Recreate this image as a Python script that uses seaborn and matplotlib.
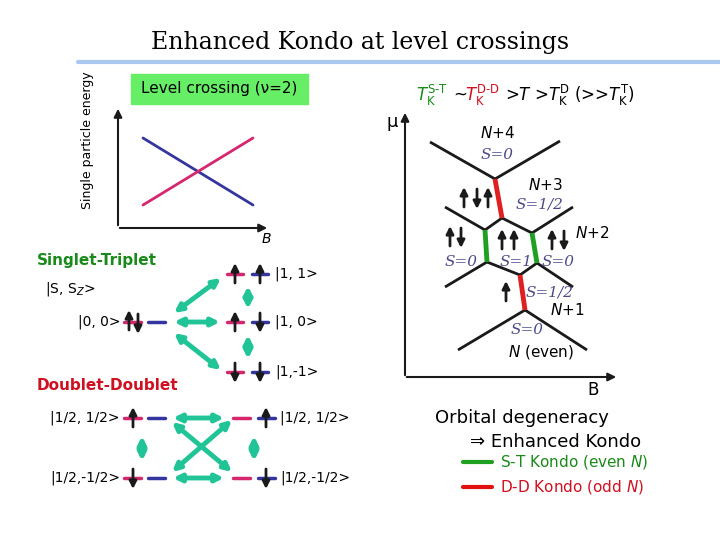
import matplotlib
matplotlib.use("Agg")
import matplotlib.pyplot as plt
import seaborn as sns
from matplotlib.patches import Rectangle

sns.set_theme(style="white")
plt.rcParams['font.family'] = ['DejaVu Sans']
plt.rcParams['text.color'] = 'black'

# ---- data ----
crossing_B = [0.0, 1.0]
level_blue = [1.0, 0.0]
level_pink = [0.0, 1.0]

# hexagon diagram segments (B, mu) in panel pixel units
black_segs = [((430,142),(495,179)), ((560,141),(495,179)),
              ((445,207),(485,230)), ((485,230),(502,218)), ((502,218),(532,233)), ((532,233),(573,207)),
              ((445,287),(487,262)), ((487,262),(520,275)), ((520,275),(537,263)), ((537,263),(573,287)),
              ((458,350),(525,310)), ((525,310),(587,350))]
red_segs = [((495,179),(502,218)), ((520,275),(525,310))]
green_segs = [((485,230),(487,262)), ((532,233),(537,263))]

triplet_labels = ["|1, 1>", "|1, 0>", "|1,-1>"]
triplet_y = [274, 322, 372]
triplet_spins = [("up", "up"), ("up", "down"), ("down", "down")]
doublet_labels = ["|1/2, 1/2>", "|1/2,-1/2>"]
doublet_y = [418, 478]

PINK = "#d6266e"; BLUE = "#3535a0"; TEAL = "#20c497"; SCOL = "#4a4a8a"
GREEN = "#1a8a1a"; RED = "#d01020"

fig = plt.figure(figsize=(7.2, 5.4), dpi=100)
ax = fig.add_axes([0, 0, 1, 1])
ax.set_xlim(0, 720); ax.set_ylim(540, 0); ax.axis("off")

ax.text(360, 42, "Enhanced Kondo at level crossings", ha="center", va="center",
        fontsize=17, family="DejaVu Serif")
ax.plot([78, 720], [62, 62], color="#a8c8f0", lw=3)

# ---- level crossing panel ----
ax.add_patch(Rectangle((131, 74), 177, 30, color="#66ee66"))
ax.text(219, 89, "Level crossing (ν=2)", ha="center", va="center", fontsize=11)
ax.annotate("", xy=(118, 106), xytext=(118, 228), arrowprops=dict(arrowstyle="-|>", color="k", lw=1.5))
ax.annotate("", xy=(270, 228), xytext=(117, 228), arrowprops=dict(arrowstyle="-|>", color="k", lw=1.5))
ax.text(88, 140, "Single particle energy", rotation=90, ha="center", va="center", fontsize=9)
ax.text(266, 239, "B", fontsize=10, style="italic", ha="center", va="center")
bx = [143 + 110 * b for b in crossing_B]
ax.plot(bx, [205 - 67 * v for v in level_blue], color=BLUE, lw=2)
ax.plot(bx, [205 - 67 * v for v in level_pink], color=PINK, lw=2)

SP = dict(arrowstyle="-|>", color="k", lw=2, mutation_scale=11, shrinkA=0, shrinkB=0)

def spin(x, y, d):
    if d == "up":
        ax.annotate("", xy=(x, y - 11), xytext=(x, y + 9), arrowprops=SP)
    else:
        ax.annotate("", xy=(x, y + 11), xytext=(x, y - 9), arrowprops=SP)

def dash(x0, x1, y, c):
    ax.plot([x0, x1], [y, y], color=c, lw=2.5)

def darrow(p, q):
    ax.annotate("", xy=q, xytext=p, arrowprops=dict(arrowstyle="<|-|>", color=TEAL, lw=3.5,
                                                    mutation_scale=11, shrinkA=0, shrinkB=0))

# ---- singlet-triplet ----
ax.text(37, 260, "Singlet-Triplet", color=GREEN, fontsize=11, fontweight="bold", va="center")
ax.text(45, 289, "|S, S$_Z$>", fontsize=10, va="center")
ax.text(120, 322, "|0, 0>", fontsize=10, va="center", ha="right")
dash(124, 141, 322, PINK); dash(148, 165, 322, BLUE)
spin(129, 321, "up"); spin(138, 323, "down")
for lab, y, (s1, s2) in zip(triplet_labels, triplet_y, triplet_spins):
    dash(227, 243, y, PINK); dash(252, 268, y, BLUE)
    spin(235, y, s1); spin(260, y, s2)
    ax.text(275, y, lab, fontsize=10, va="center")
darrow((174, 313), (221, 278)); darrow((174, 322), (220, 322)); darrow((174, 333), (221, 370))
darrow((248, 286), (248, 309)); darrow((248, 335), (248, 359))

# ---- doublet-doublet ----
ax.text(37, 385, "Doublet-Doublet", color=RED, fontsize=11, fontweight="bold", va="center")
for lab, y, s in zip(doublet_labels, doublet_y, ["up", "down"]):
    ax.text(120, y, lab, fontsize=10, va="center", ha="right")
    dash(124, 141, y, PINK); dash(148, 165, y, BLUE); spin(133, y, s)
    dash(233, 250, y, PINK); dash(258, 275, y, BLUE); spin(266, y, s)
    ax.text(280, y, lab, fontsize=10, va="center")
darrow((173, 418), (224, 418)); darrow((173, 478), (224, 478))
darrow((172, 472), (232, 420)); darrow((172, 422), (232, 472))
darrow((142, 436), (142, 461)); darrow((254, 436), (254, 461))

# ---- right panel ----
x0 = 416
ax.text(x0, 95, r"$T_{\rm K}^{\rm S\text{-}T}$", color=GREEN, fontsize=12, va="center")
ax.text(x0 + 37, 95, "~", fontsize=12, va="center")
ax.text(x0 + 49, 95, r"$T_{\rm K}^{\rm D\text{-}D}$", color=RED, fontsize=12, va="center")
ax.text(x0 + 89, 95, r">$T$ >$T_{\rm K}^{\rm D}$ (>>$T_{\rm K}^{\rm T}$)", fontsize=12, va="center")

ax.annotate("", xy=(405, 110), xytext=(405, 378), arrowprops=dict(arrowstyle="-|>", color="k", lw=1.5))
ax.annotate("", xy=(619, 377), xytext=(404, 377), arrowprops=dict(arrowstyle="-|>", color="k", lw=1.5))
ax.text(392, 122, "μ", fontsize=13, va="center", ha="center")
ax.text(593, 390, "B", fontsize=12, va="center", ha="center")
for segs, c, w in [(black_segs, "k", 2), (red_segs, "#e02020", 3.5), (green_segs, "#20a020", 3.5)]:
    for (p, q) in segs:
        ax.plot([p[0], q[0]], [p[1], q[1]], color=c, lw=w, solid_capstyle="butt")

def Slab(x, y, s):
    ax.text(x, y, s, fontsize=11, color=SCOL, family="DejaVu Serif", style="italic", va="center", ha="center")
def Nlab(x, y, s):
    ax.text(x, y, s, fontsize=11, va="center", ha="center")

Nlab(497, 133, "$N$+4"); Slab(497, 155, "S=0")
Nlab(545, 185, "$N$+3"); Slab(540, 205, "S=1/2")
Nlab(592, 233, "$N$+2")
Slab(461, 262, "S=0"); Slab(516, 262, "S=1"); Slab(558, 262, "S=0")
Slab(549, 293, "S=1/2"); Nlab(567, 310, "$N$+1")
Slab(527, 330, "S=0"); Nlab(541, 352, "$N$ (even)")
for x, y, d in [(464, 198, "up"), (477, 198, "down"), (488, 198, "up"),
                (450, 237, "up"), (461, 237, "down"),
                (502, 240, "up"), (514, 240, "up"),
                (552, 240, "up"), (564, 240, "down"), (506, 292, "up")]:
    spin(x, y, d)

ax.text(435, 418, "Orbital degeneracy", fontsize=13, va="center")
ax.text(470, 442, "⇒ Enhanced Kondo", fontsize=13, va="center")
ax.plot([463, 492], [462, 462], color="#20a020", lw=3)
ax.text(500, 462, "S-T Kondo (even $N$)", color=GREEN, fontsize=11, va="center")
ax.plot([463, 492], [487, 487], color="#e01010", lw=3)
ax.text(500, 487, "D-D Kondo (odd $N$)", color=RED, fontsize=11, va="center")

fig.savefig("out.png", dpi=100)
